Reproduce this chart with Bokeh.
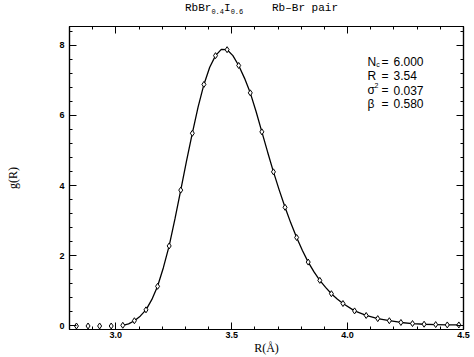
from bokeh.plotting import figure
from bokeh.layouts import column
from bokeh.models import (Range1d, LinearAxis, FixedTicker, Label, Div,
                          NumeralTickFormatter)
from bokeh.embed import file_html
from bokeh.resources import INLINE

# fitted data points (diamonds)
r_points = [2.83, 2.88, 2.93, 2.98, 3.03, 3.08, 3.13, 3.18, 3.23, 3.28, 3.33, 3.38,
            3.43, 3.48, 3.53, 3.58, 3.63, 3.68, 3.73, 3.78, 3.83, 3.88, 3.93, 3.98,
            4.03, 4.08, 4.13, 4.18, 4.23, 4.28, 4.33, 4.38, 4.43, 4.48]
g_points = [0.0, 0.0, 0.0, 0.0, 0.02, 0.15, 0.46, 1.13, 2.28, 3.87, 5.49, 6.88,
            7.70, 7.87, 7.42, 6.64, 5.53, 4.39, 3.38, 2.52, 1.82, 1.30, 0.92, 0.64,
            0.43, 0.30, 0.21, 0.15, 0.10, 0.07, 0.05, 0.04, 0.03, 0.03]

# model curve (solid line)
r_curve = [3.030, 3.055, 3.080, 3.105, 3.130, 3.155, 3.180, 3.205, 3.230, 3.255,
           3.280, 3.305, 3.330, 3.355, 3.380, 3.405, 3.430, 3.455, 3.480, 3.505,
           3.530, 3.555, 3.580, 3.605, 3.630, 3.655, 3.680, 3.705, 3.730, 3.755,
           3.780, 3.805, 3.830, 3.855, 3.880, 3.905, 3.930, 3.955, 3.980, 4.030,
           4.080, 4.130, 4.180, 4.230, 4.280, 4.330, 4.380, 4.430, 4.480]
g_curve = [0.02, 0.06, 0.15, 0.28, 0.46, 0.75, 1.13, 1.66, 2.28, 3.05,
           3.87, 4.70, 5.49, 6.24, 6.88, 7.37, 7.70, 7.88, 7.87, 7.70,
           7.42, 7.06, 6.64, 6.11, 5.53, 4.95, 4.39, 3.87, 3.38, 2.93,
           2.52, 2.15, 1.82, 1.54, 1.30, 1.10, 0.92, 0.77, 0.64, 0.43,
           0.30, 0.21, 0.15, 0.10, 0.07, 0.05, 0.04, 0.03, 0.03]

x_ticks = [3.0, 3.5, 4.0, 4.5]
x_minor = [2.8, 2.9, 3.1, 3.2, 3.3, 3.4, 3.6, 3.7, 3.8, 3.9, 4.1, 4.2, 4.3, 4.4]
y_ticks = [0, 2, 4, 6, 8]
y_minor = [0.4, 0.8, 1.2, 1.6, 2.4, 2.8, 3.2, 3.6, 4.4, 4.8, 5.2, 5.6,
           6.4, 6.8, 7.2, 7.6, 8.4]

fit_names = ["N", "R", "\u03c3", "\u03b2"]
fit_values = ["6.000", "3.54", "0.037", "0.580"]

title = Div(
    text=('<div style="position:relative;width:474px;height:24px;'
          'font-family:\'Liberation Mono\';color:black;">'
          '<span style="position:absolute;left:185px;top:1px;font-size:11px;white-space:nowrap;">'
          'RbBr<sub style="font-size:7px;">0.4</sub>I<sub style="font-size:7px;">0.6</sub></span>'
          '<span style="position:absolute;left:272px;top:1px;font-size:11px;white-space:nowrap;">'
          'Rb\u2013Br pair</span></div>'),
    width=474, height=24, margin=(0, 0, 0, 0))

p = figure(width=474, height=333, x_range=Range1d(2.8, 4.5), y_range=Range1d(-0.1, 8.53),
           output_backend="svg", toolbar_location=None, margin=(0, 0, 0, 0),
           min_border_left=69, min_border_right=11, min_border_top=2, min_border_bottom=22)
p.grid.visible = False
p.outline_line_color = "black"
p.outline_line_width = 1.2
p.background_fill_color = "white"
p.border_fill_color = "white"


def style(ax, labels=True):
    ax.axis_line_color = "black"
    ax.axis_line_width = 1.2
    ax.major_tick_in = 7
    ax.major_tick_out = 0
    ax.minor_tick_in = 3
    ax.minor_tick_out = 0
    ax.major_tick_line_color = "black"
    ax.minor_tick_line_color = "black"
    ax.major_label_text_font = "Liberation Sans"
    ax.major_label_text_font_style = "bold"
    if labels:
        ax.major_label_text_font_size = "9px"
        ax.major_label_text_color = "black"
    else:
        ax.major_label_text_font_size = "1px"
        ax.major_label_text_color = None
        ax.major_label_standoff = 0
    ax.axis_label_text_font = "Liberation Serif"
    ax.axis_label_text_font_style = "normal"
    ax.axis_label_text_font_size = "12px"
    ax.axis_label_text_color = "black"


xa = p.xaxis[0]
xa.ticker = FixedTicker(ticks=x_ticks, minor_ticks=x_minor)
xa.formatter = NumeralTickFormatter(format="0.0")
style(xa)
xa.major_label_standoff = 2
xa.axis_label = "R(\u00c5)"
xa.axis_label_standoff = 0

ya = p.yaxis[0]
ya.ticker = FixedTicker(ticks=y_ticks, minor_ticks=y_minor)
style(ya)
ya.major_label_standoff = 5
ya.axis_label = "g(R)"
ya.axis_label_standoff = 36

top = LinearAxis(ticker=FixedTicker(ticks=x_ticks, minor_ticks=x_minor))
style(top, labels=False)
p.add_layout(top, "above")
right = LinearAxis(ticker=FixedTicker(ticks=y_ticks, minor_ticks=y_minor))
style(right, labels=False)
p.add_layout(right, "right")

p.line(r_curve, g_curve, line_color="black", line_width=1.3)
p.scatter(r_points, g_points, marker="diamond", size=6, fill_color="white",
          line_color="black", line_width=1)


def lab(text, x, y, size):
    p.add_layout(Label(x=x, y=y, text=text,
                       text_font="Liberation Sans", text_font_size=size,
                       text_color="black", text_align="left",
                       text_baseline="alphabetic"))


# fit-parameter block, placed in data units inside the frame
rows_y = [7.52, 7.13, 6.72, 6.33]
for name, val, yy in zip(fit_names, fit_values, rows_y):
    lab(name, 4.086, yy, "12px")
    lab("=", 4.146, yy, "12px")
    lab(val, 4.198, yy, "12px")
lab("c", 4.124, 7.44, "7px")
lab("2", 4.116, 6.86, "7px")

layout = column(title, p, spacing=0, margin=(0, 0, 0, 0))
open("out.html", "w").write(file_html(layout, INLINE))
